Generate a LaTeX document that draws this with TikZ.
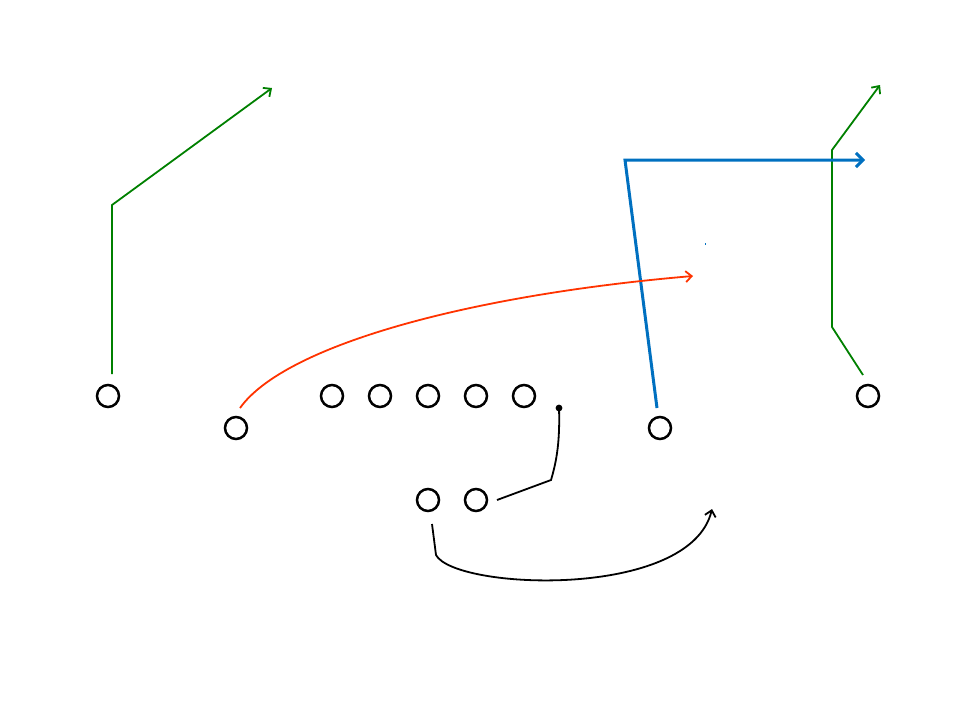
\documentclass[tikz,border=0pt]{standalone}
\usetikzlibrary{arrows.meta}
\definecolor{routegreen}{RGB}{0,128,0}
\definecolor{routeblue}{RGB}{0,112,192}
\definecolor{routered}{RGB}{255,51,0}
\begin{document}
\begin{tikzpicture}[x=1pt,y=-1pt,
  player/.style={circle,draw=black,line width=2.5pt,minimum size=22pt,inner sep=0pt,fill=white},
  greenroute/.style={draw=routegreen,line width=1.8pt,-{Straight Barb[length=6pt,width=11pt,line width=1.8pt]}},
  blueroute/.style={draw=routeblue,line width=3pt,-{Straight Barb[length=7pt,width=14pt,line width=3pt]}},
  redroute/.style={draw=routered,line width=1.8pt,-{Straight Barb[length=6pt,width=11pt,line width=1.8pt]}},
  blackroute/.style={draw=black,line width=1.8pt}]
\useasboundingbox (0,0) rectangle (960,720);
\node[player] (wl) at (108,396) {};
\node[player] (sl) at (236,428) {};
\node[player] (o1) at (332,396) {};
\node[player] (o2) at (380,396) {};
\node[player] (o3) at (428,396) {};
\node[player] (o4) at (476,396) {};
\node[player] (o5) at (524,396) {};
\node[player] (te) at (660,428) {};
\node[player] (wr) at (868,396) {};
\node[player] (qb) at (428,500) {};
\node[player] (rb) at (476,500) {};
\coordinate (g1) at (112,205);
\coordinate (g1e) at (272,88);
\draw[greenroute] (112,374) -- (g1) -- (g1e);
\coordinate (g2a) at (832,327);
\coordinate (g2b) at (832,150);
\coordinate (g2e) at (880,85);
\draw[greenroute] (863,375) -- (g2a) -- (g2b) -- (g2e);
\coordinate (b1) at (625,160);
\coordinate (b1e) at (865,160);
\draw[blueroute] (657,408) -- (b1) -- (b1e);
\coordinate (re) at (693,276);
\draw[redroute] (240,408) .. controls (285,345) and (470,295) .. (re);
\coordinate (dot) at (559,408);
\fill (dot) circle (3.4pt);
\draw[blackroute] (dot) .. controls (560,440) and (557,460) .. (551,480) -- (497,500);
\coordinate (k1) at (436,555);
\coordinate (ke) at (712,509);
\draw[blackroute,-{Straight Barb[length=6pt,width=11pt,line width=1.8pt]}] (432,524) -- (k1) .. controls (455,590) and (690,600) .. (ke);
\fill[routeblue] (704.5,242.5) rectangle (705.5,244.5);
\end{tikzpicture}
\end{document}
